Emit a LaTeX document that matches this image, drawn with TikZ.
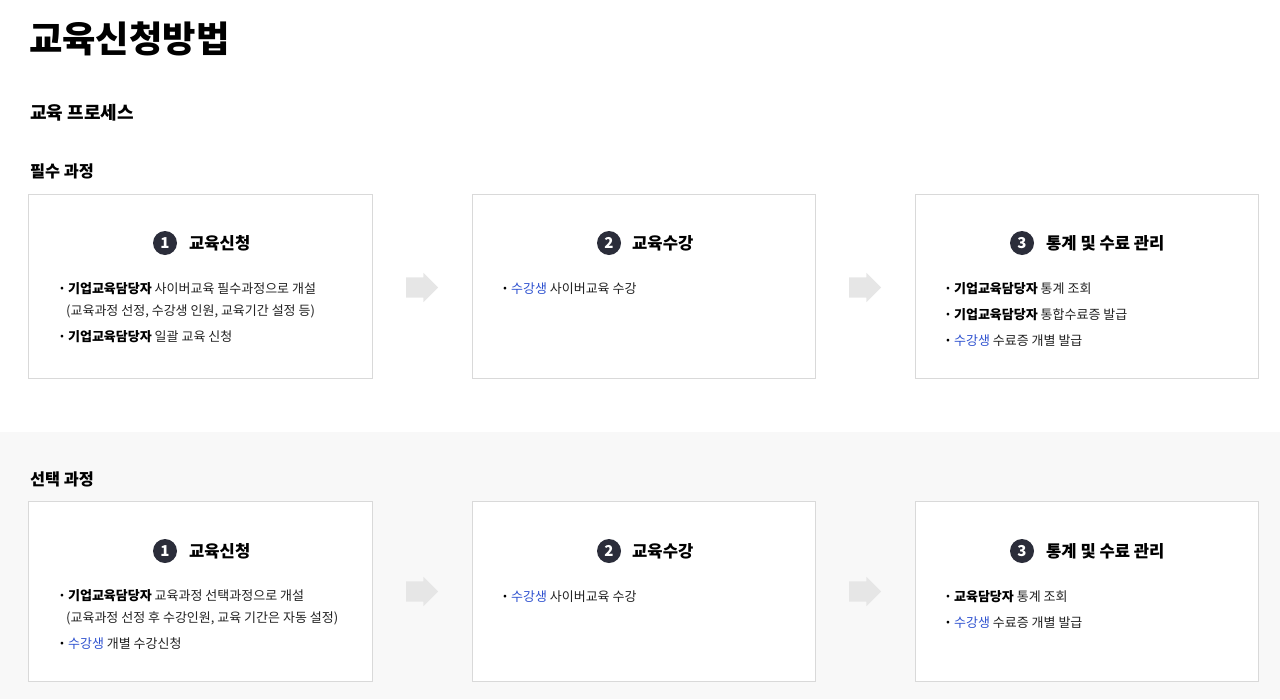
\documentclass[tikz,border=0pt]{standalone}
\usepackage{fontspec}
\setmainfont{Noto Sans CJK KR}
\usetikzlibrary{shapes.arrows}
\definecolor{boxline}{HTML}{D9D9D9}
\definecolor{band}{HTML}{F8F8F8}
\definecolor{arrowgray}{HTML}{E6E6E6}
\definecolor{numdark}{HTML}{2B2D3A}
\definecolor{txt}{HTML}{222222}
\definecolor{blu}{HTML}{2F52D0}
\tikzset{
  card/.style={draw=boxline, line width=1pt, fill=white},
  num/.style={circle, fill=numdark, minimum size=24pt, inner sep=0pt, text=white, font=\fontsize{15}{15}\selectfont\bfseries},
  head/.style={anchor=west, inner sep=0pt, text height=0.83em, text depth=0.07em, font=\fontsize{16.6}{17}\selectfont\bfseries, text=black},
  item/.style={anchor=west, inner sep=0pt, text height=0.83em, text depth=0.07em, font=\fontsize{13}{14}\selectfont, text=txt},
  sect/.style={anchor=west, inner sep=0pt, text height=0.83em, text depth=0.07em, text=black},
  blockarrow/.style={single arrow, fill=arrowgray, draw=none, inner xsep=0pt, inner ysep=10pt, single arrow head extend=4.5pt, minimum height=32pt}
}
\newcommand{\who}[1]{\textbf{\color{black}#1}}
\newcommand{\stu}[1]{{\color{blu}#1}}
\newcommand{\dotb}{\textbf{\color{black}·}\hspace{0.15em}}
\begin{document}
\begin{tikzpicture}[x=1pt,y=-1pt]
\useasboundingbox (0,0) rectangle (1280,699);
\fill[band] (0,432) rectangle (1280,699);

\node[sect, font=\fontsize{36.3}{37}\selectfont\bfseries] (title) at (29,49) {교육신청방법};
\node[sect, font=\fontsize{18}{19}\selectfont\bfseries] (proc) at (30,116) {교육 프로세스};
\node[sect, font=\fontsize{16.3}{17}\selectfont\bfseries] (req) at (30,174) {필수 과정};
\node[sect, font=\fontsize{16.3}{17}\selectfont\bfseries] (opt) at (30,482) {선택 과정};

% Row 1
\draw[card] (28.5,194.5) rectangle (372.5,378.5);
\draw[card] (472.5,194.5) rectangle (815.5,378.5);
\draw[card] (915.5,194.5) rectangle (1258.5,378.5);
\node[num] (r1n1) at (165,243) {1};
\node[head] (r1h1) at (189,246) {교육신청};
\node[item] (r1a) at (58,290) {\dotb\who{기업교육담당자} 사이버교육 필수과정으로 개설};
\node[item] (r1b) at (66,312) {(교육과정 선정, 수강생 인원, 교육기간 설정 등)};
\node[item] (r1c) at (58,338) {\dotb\who{기업교육담당자} 일괄 교육 신청};

\node[num] (r1n2) at (609,243) {2};
\node[head] (r1h2) at (632,246) {교육수강};
\node[item] (r1d) at (501,290) {\dotb\stu{수강생} 사이버교육 수강};

\node[num] (r1n3) at (1022,243) {3};
\node[head] (r1h3) at (1046,246) {통계 및 수료 관리};
\node[item] (r1e) at (944,290) {\dotb\who{기업교육담당자} 통계 조회};
\node[item] (r1f) at (944,316) {\dotb\who{기업교육담당자} 통합수료증 발급};
\node[item] (r1g) at (944,342) {\dotb\stu{수강생} 수료증 개별 발급};

\node[blockarrow] (r1a1) at (417,287.5) {};
\node[blockarrow] (r1a2) at (860,287.5) {};

% Row 2
\draw[card] (28.5,501.5) rectangle (372.5,681.5);
\draw[card] (472.5,501.5) rectangle (815.5,681.5);
\draw[card] (915.5,501.5) rectangle (1258.5,681.5);
\node[num] (r2n1) at (165,551) {1};
\node[head] (r2h1) at (189,554) {교육신청};
\node[item] (r2a) at (58,597) {\dotb\who{기업교육담당자} 교육과정 선택과정으로 개설};
\node[item] (r2b) at (66,619) {(교육과정 선정 후 수강인원, 교육 기간은 자동 설정)};
\node[item] (r2c) at (58,645) {\dotb\stu{수강생} 개별 수강신청};

\node[num] (r2n2) at (609,551) {2};
\node[head] (r2h2) at (632,554) {교육수강};
\node[item] (r2d) at (501,598) {\dotb\stu{수강생} 사이버교육 수강};

\node[num] (r2n3) at (1022,551) {3};
\node[head] (r2h3) at (1046,554) {통계 및 수료 관리};
\node[item] (r2e) at (944,598) {\dotb\who{교육담당자} 통계 조회};
\node[item] (r2f) at (944,624) {\dotb\stu{수강생} 수료증 개별 발급};

\node[blockarrow] (r2a1) at (417,591.5) {};
\node[blockarrow] (r2a2) at (860,591.5) {};
\end{tikzpicture}
\end{document}
